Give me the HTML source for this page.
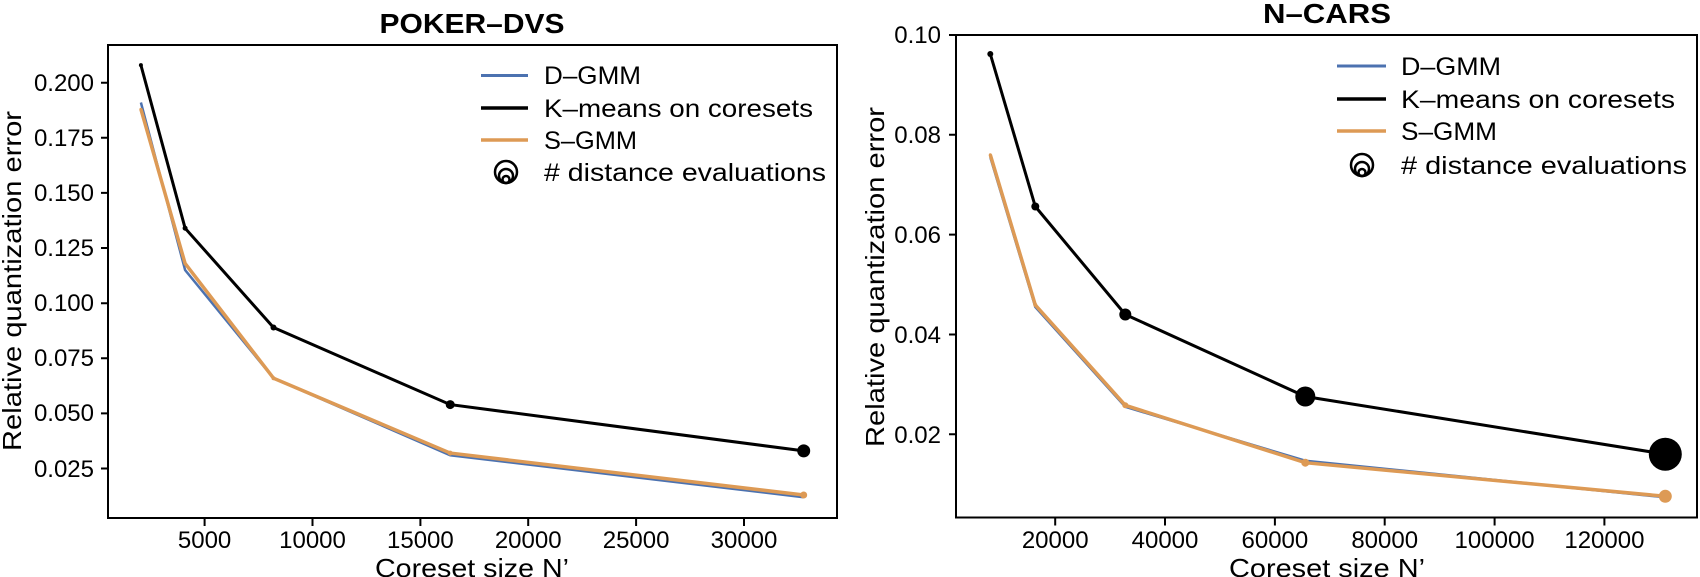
<!DOCTYPE html>
<html><head><meta charset="utf-8"><style>
html,body{margin:0;padding:0;background:#fff;}
svg{display:block;font-family:"Liberation Sans","DejaVu Sans",sans-serif;}
</style></head><body>
<svg width="1700" height="577" viewBox="0 0 1700 577" xmlns="http://www.w3.org/2000/svg">
<rect width="1700" height="577" fill="#fff"/>
<!-- LEFT PLOT -->
<text x="472" y="33" font-size="28" font-weight="bold" text-anchor="middle" textLength="185" lengthAdjust="spacingAndGlyphs">POKER–DVS</text>
<g stroke="#000" stroke-width="2" fill="none">
<rect x="108" y="45" width="729" height="473"/>
<path d="M101 82.7H108M101 137.8H108M101 192.9H108M101 248H108M101 303.2H108M101 358.3H108M101 413.4H108M101 468.5H108"/>
<path d="M204.6 518V526M312.5 518V526M420.4 518V526M528.2 518V526M636.1 518V526M744 518V526"/>
</g>
<g font-size="24" text-anchor="end">
<text x="94" y="91">0.200</text><text x="94" y="146">0.175</text><text x="94" y="201">0.150</text><text x="94" y="256">0.125</text><text x="94" y="311">0.100</text><text x="94" y="366">0.075</text><text x="94" y="421">0.050</text><text x="94" y="477">0.025</text>
</g>
<g font-size="24" text-anchor="middle">
<text x="204.6" y="548">5000</text><text x="312.5" y="548">10000</text><text x="420.4" y="548">15000</text><text x="528.2" y="548">20000</text><text x="636.1" y="548">25000</text><text x="744" y="548">30000</text>
</g>
<text x="472" y="577" font-size="26" text-anchor="middle" textLength="194" lengthAdjust="spacingAndGlyphs">Coreset size N’</text>
<text transform="translate(21,281) rotate(-90)" font-size="26" text-anchor="middle" textLength="340" lengthAdjust="spacingAndGlyphs">Relative quantization error</text>
<polyline points="140.9,102.5 185.1,270.1 273.5,378.2 450.2,455.3 803.7,497.2" fill="none" stroke="#4c72b0" stroke-width="2.5"/>
<polyline points="140.9,109.2 185.1,263.5 273.5,378.2 450.2,453.1 803.7,495" fill="none" stroke="#dd9a55" stroke-width="3.5"/>
<polyline points="140.9,65.1 185.1,228.2 273.5,327.5 450.2,404.6 803.7,450.9" fill="none" stroke="#000" stroke-width="3"/>
<g fill="#000"><circle cx="140.9" cy="65.1" r="2"/><circle cx="185.1" cy="228.2" r="2.5"/><circle cx="273.5" cy="327.5" r="3"/><circle cx="450.2" cy="404.6" r="4.5"/><circle cx="803.7" cy="450.9" r="6.5"/></g>
<g fill="#dd9a55"><circle cx="140.9" cy="109.2" r="1.5"/><circle cx="185.1" cy="263.5" r="1.5"/><circle cx="273.5" cy="378.2" r="2"/><circle cx="450.2" cy="453.1" r="2.5"/><circle cx="803.7" cy="495" r="3.5"/></g>
<!-- left legend -->
<path d="M481 75.5H528" stroke="#4c72b0" stroke-width="3"/>
<path d="M481 108H528" stroke="#000" stroke-width="3.5"/>
<path d="M481 140H528" stroke="#dd9a55" stroke-width="3.5"/>
<g fill="none" stroke="#000" stroke-width="2.5"><circle cx="506" cy="172" r="11"/><circle cx="506" cy="176" r="7"/><circle cx="506" cy="179.5" r="3.5"/></g>
<g font-size="25">
<text x="544" y="84" textLength="97" lengthAdjust="spacingAndGlyphs">D–GMM</text>
<text x="544" y="117" textLength="269" lengthAdjust="spacingAndGlyphs">K–means on coresets</text>
<text x="544" y="149" textLength="93" lengthAdjust="spacingAndGlyphs">S–GMM</text>
<text x="544" y="181" textLength="282" lengthAdjust="spacingAndGlyphs"># distance evaluations</text>
</g>
<!-- RIGHT PLOT -->
<text x="1327" y="23" font-size="28" font-weight="bold" text-anchor="middle" textLength="128" lengthAdjust="spacingAndGlyphs">N–CARS</text>
<g stroke="#000" stroke-width="2" fill="none">
<rect x="956" y="35" width="741" height="482.5"/>
<path d="M949 35H956M949 134.8H956M949 234.6H956M949 334.5H956M949 434.3H956"/>
<path d="M1055.2 517.5V525.5M1165 517.5V525.5M1274.9 517.5V525.5M1384.7 517.5V525.5M1494.6 517.5V525.5M1604.4 517.5V525.5"/>
</g>
<g font-size="24" text-anchor="end">
<text x="941" y="43">0.10</text><text x="941" y="143">0.08</text><text x="941" y="243">0.06</text><text x="941" y="343">0.04</text><text x="941" y="443">0.02</text>
</g>
<g font-size="24" text-anchor="middle">
<text x="1055.2" y="548">20000</text><text x="1165" y="548">40000</text><text x="1274.9" y="548">60000</text><text x="1384.7" y="548">80000</text><text x="1494.6" y="548">100000</text><text x="1604.4" y="548">120000</text>
</g>
<text x="1327" y="577" font-size="26" text-anchor="middle" textLength="196" lengthAdjust="spacingAndGlyphs">Coreset size N’</text>
<text transform="translate(884,277) rotate(-90)" font-size="26" text-anchor="middle" textLength="340" lengthAdjust="spacingAndGlyphs">Relative quantization error</text>
<polyline points="990.3,157.3 1035.3,307 1125.3,406.8 1305.3,460.7 1665.3,497.3" fill="none" stroke="#4c72b0" stroke-width="2.5"/>
<polyline points="990.3,154.8 1035.3,305 1125.3,405.3 1305.3,462.7 1665.3,496.3" fill="none" stroke="#dd9a55" stroke-width="3.5"/>
<polyline points="990.3,54 1035.3,206.5 1125.3,314.5 1305.3,396.5 1665.3,454.2" fill="none" stroke="#000" stroke-width="3"/>
<g fill="#000"><circle cx="990.3" cy="54" r="3"/><circle cx="1035.3" cy="206.5" r="4"/><circle cx="1125.3" cy="314.5" r="6"/><circle cx="1305.3" cy="396.5" r="10"/><circle cx="1665.3" cy="454.2" r="16.5"/></g>
<g fill="#dd9a55"><circle cx="990.3" cy="154.8" r="1.5"/><circle cx="1035.3" cy="305" r="2"/><circle cx="1125.3" cy="405.3" r="3"/><circle cx="1305.3" cy="462.7" r="4"/><circle cx="1665.3" cy="496.3" r="6.5"/></g>
<!-- right legend -->
<path d="M1337 66H1386" stroke="#4c72b0" stroke-width="3"/>
<path d="M1337 99H1386" stroke="#000" stroke-width="3.5"/>
<path d="M1337 131H1386" stroke="#dd9a55" stroke-width="3.5"/>
<g fill="none" stroke="#000" stroke-width="2.5"><circle cx="1362" cy="165" r="11"/><circle cx="1362" cy="169" r="7"/><circle cx="1362" cy="172.5" r="3.5"/></g>
<g font-size="25">
<text x="1401" y="75" textLength="100" lengthAdjust="spacingAndGlyphs">D–GMM</text>
<text x="1401" y="108" textLength="274" lengthAdjust="spacingAndGlyphs">K–means on coresets</text>
<text x="1401" y="140" textLength="96" lengthAdjust="spacingAndGlyphs">S–GMM</text>
<text x="1401" y="174" textLength="286" lengthAdjust="spacingAndGlyphs"># distance evaluations</text>
</g>
</svg>
</body></html>
